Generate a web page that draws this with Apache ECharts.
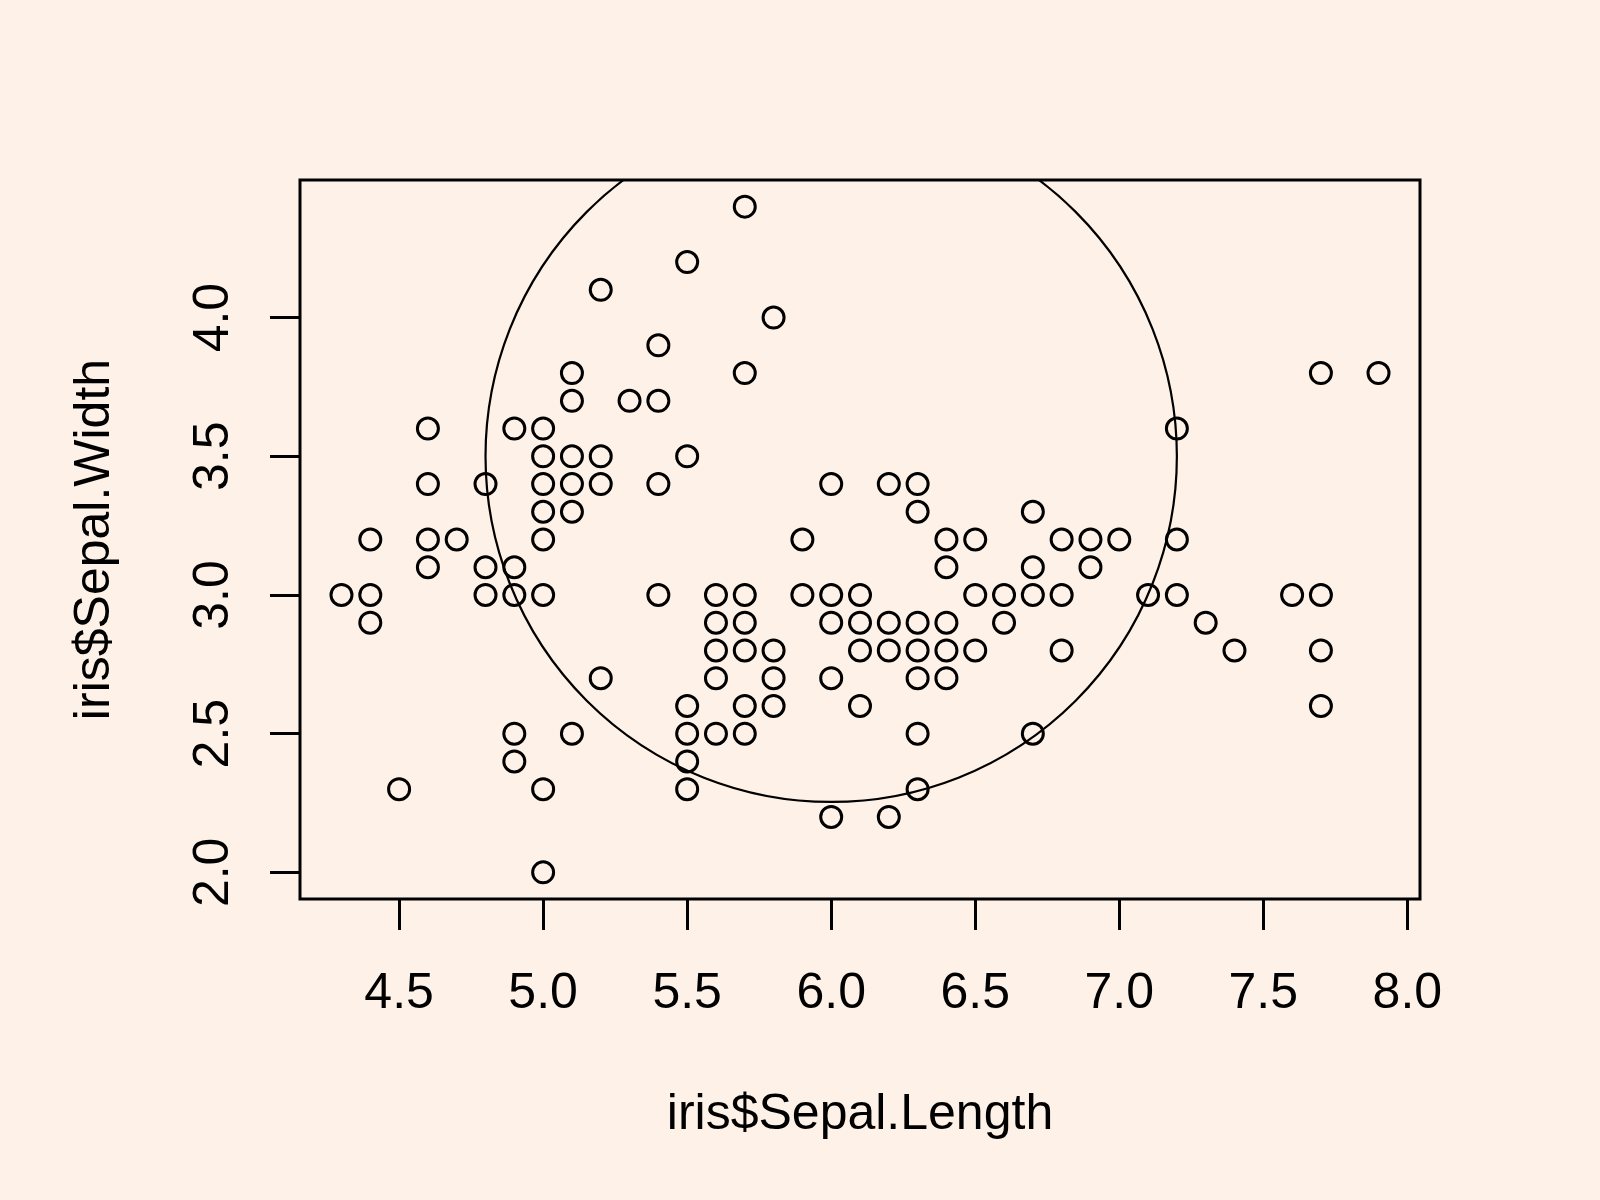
<!DOCTYPE html>
<html>
<head>
<meta charset="utf-8">
<title>iris scatter</title>
<script src="https://cdn.jsdelivr.net/npm/echarts@6/dist/echarts.min.js"></script>
<style>
html, body { margin: 0; padding: 0; background: #FEF1E7; }
#main { width: 1600px; height: 1200px; }
</style>
</head>
<body>
<div id="main"></div>
<script type="text/javascript">
// iris$Sepal.Length / iris$Sepal.Width
var sepalLength = [
  5.1,4.9,4.7,4.6,5.0,5.4,4.6,5.0,4.4,4.9,5.4,4.8,4.8,4.3,5.8,5.7,5.4,5.1,5.7,5.1,
  5.4,5.1,4.6,5.1,4.8,5.0,5.0,5.2,5.2,4.7,4.8,5.4,5.2,5.5,4.9,5.0,5.5,4.9,4.4,5.1,
  5.0,4.5,4.4,5.0,5.1,4.8,5.1,4.6,5.3,5.0,
  7.0,6.4,6.9,5.5,6.5,5.7,6.3,4.9,6.6,5.2,5.0,5.9,6.0,6.1,5.6,6.7,5.6,5.8,6.2,5.6,
  5.9,6.1,6.3,6.1,6.4,6.6,6.8,6.7,6.0,5.7,5.5,5.5,5.8,6.0,5.4,6.0,6.7,6.3,5.6,5.5,
  5.5,6.1,5.8,5.0,5.6,5.7,5.7,6.2,5.1,5.7,
  6.3,5.8,7.1,6.3,6.5,7.6,4.9,7.3,6.7,7.2,6.5,6.4,6.8,5.7,5.8,6.4,6.5,7.7,7.7,6.0,
  6.9,5.6,7.7,6.3,6.7,7.2,6.2,6.1,6.4,7.2,7.4,7.9,6.4,6.3,6.1,7.7,6.3,6.4,6.0,6.9,
  6.7,6.9,5.8,6.8,6.7,6.7,6.3,6.5,6.2,5.9
];
var sepalWidth = [
  3.5,3.0,3.2,3.1,3.6,3.9,3.4,3.4,2.9,3.1,3.7,3.4,3.0,3.0,4.0,4.4,3.9,3.5,3.8,3.8,
  3.4,3.7,3.6,3.3,3.4,3.0,3.4,3.5,3.4,3.2,3.1,3.4,4.1,4.2,3.1,3.2,3.5,3.6,3.0,3.4,
  3.5,2.3,3.2,3.5,3.8,3.0,3.8,3.2,3.7,3.3,
  3.2,3.2,3.1,2.3,2.8,2.8,3.3,2.4,2.9,2.7,2.0,3.0,2.2,2.9,2.9,3.1,3.0,2.7,2.2,2.5,
  3.2,2.8,2.5,2.8,2.9,3.0,2.8,3.0,2.9,2.6,2.4,2.4,2.7,2.7,3.0,3.4,3.1,2.3,3.0,2.5,
  2.6,3.0,2.6,2.3,2.7,3.0,2.9,2.9,2.5,2.8,
  3.3,2.7,3.0,2.9,3.0,3.0,2.5,2.9,2.5,3.6,3.2,2.7,3.0,2.5,2.8,3.2,3.0,3.8,2.6,2.2,
  3.2,2.8,2.8,2.7,3.3,3.2,2.8,3.0,2.8,3.0,2.8,3.8,2.8,2.8,2.6,3.0,3.4,3.1,3.0,3.1,
  3.1,3.1,2.7,3.2,3.3,3.0,2.5,3.0,3.4,3.0
];
var xTicks = [4.5, 5.0, 5.5, 6.0, 6.5, 7.0, 7.5, 8.0];
var yTicks = [2.0, 2.5, 3.0, 3.5, 4.0];
// circle: centre (x, y) and radius in x units
var circleX = 6.0;
var circleY = 3.5;
var circleR = 1.2;

// duplicates are drawn once, like overplotting in R
var points = [];
var seen = {};
for (var i = 0; i < sepalLength.length; i++) {
  var key = sepalLength[i] + '_' + sepalWidth[i];
  if (seen[key]) continue;
  seen[key] = true;
  points.push([sepalLength[i], sepalWidth[i]]);
}

var fontName = "'Liberation Sans', Arial, sans-serif";
var myChart = echarts.init(document.getElementById('main'), null, { renderer: 'canvas' });

var option = {
  backgroundColor: '#FEF1E7',
  animation: false,
  grid: {
    left: 300, top: 180, width: 1120, height: 719,
    show: true, borderColor: '#000', borderWidth: 3, backgroundColor: 'transparent'
  },
  xAxis: {
    type: 'value',
    min: 4.156, max: 8.044,
    name: 'iris$Sepal.Length',
    nameLocation: 'middle',
    nameGap: 191,
    nameTextStyle: { fontFamily: fontName, fontSize: 50, color: '#000' },
    axisLine: { show: false },
    splitLine: { show: false },
    axisTick: { show: true, inside: false, length: 31, customValues: xTicks,
      lineStyle: { color: '#000', width: 3 } },
    axisLabel: { customValues: xTicks, margin: 70, fontFamily: fontName, fontSize: 50, color: '#000',
      formatter: function (v) { return v.toFixed(1); } }
  },
  yAxis: {
    type: 'value',
    min: 1.904, max: 4.496,
    name: 'iris$Sepal.Width',
    nameLocation: 'middle',
    nameGap: 180,
    nameTextStyle: { fontFamily: fontName, fontSize: 50, color: '#000' },
    axisLine: { show: false },
    splitLine: { show: false },
    axisTick: { show: true, inside: false, length: 30, customValues: yTicks,
      lineStyle: { color: '#000', width: 3 } },
    axisLabel: { customValues: yTicks, margin: 61, rotate: 90, fontFamily: fontName, fontSize: 50, color: '#000',
      formatter: function (v) { return v.toFixed(1); } }
  },
  series: [
    {
      type: 'scatter',
      data: points,
      symbol: 'circle',
      symbolSize: 21,
      itemStyle: { color: 'rgba(0,0,0,0)', borderColor: '#000', borderWidth: 3, opacity: 1 },
      emphasis: { disabled: true },
      silent: true
    },
    {
      type: 'custom',
      data: [[circleX, circleY, circleR]],
      silent: true,
      renderItem: function (params, api) {
        var c = api.coord([api.value(0), api.value(1)]);
        var r = api.size([api.value(2), 0])[0];
        var cs = params.coordSys;
        return {
          type: 'circle',
          shape: { cx: c[0], cy: c[1], r: r },
          style: { fill: null, stroke: '#000', lineWidth: 2.2 },
          clipPath: { type: 'rect', shape: { x: cs.x, y: cs.y, width: cs.width, height: cs.height } }
        };
      }
    }
  ]
};
myChart.setOption(option);
</script>
</body>
</html>
